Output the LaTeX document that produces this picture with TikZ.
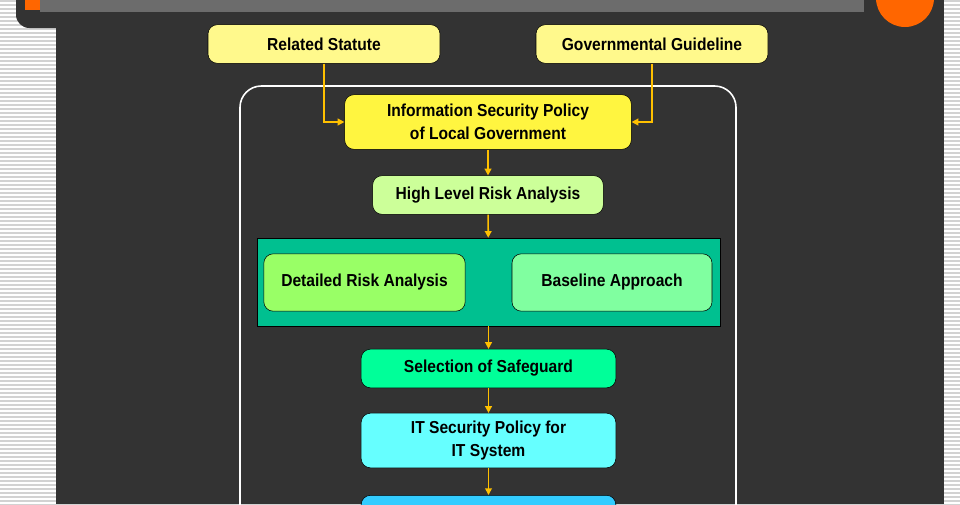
\documentclass[tikz,border=0pt]{standalone}
\usepackage{fontspec}
\setmainfont[FakeStretch=0.9]{Liberation Sans}
\usetikzlibrary{arrows.meta}
\definecolor{panel}{HTML}{333333}
\definecolor{gold}{HTML}{FFC000}
\definecolor{orng}{HTML}{FF6600}
\tikzset{
  box/.style={draw=black, rounded corners=7pt, font=\bfseries\fontsize{13}{17}\selectfont, align=center, inner sep=0pt},
  arr/.style={gold, line width=1.2pt, -{Triangle[length=5pt,width=5pt]}}
}
\begin{document}
\begin{tikzpicture}[x=0.75pt,y=-0.75pt]
\useasboundingbox (0,0) rectangle (960,504);
% striped background
\fill[white] (0,0) rectangle (960,504);
\foreach \i in {0,4,...,504} \fill[gray!35] (0,\i) rectangle (960,\i+2);
\fill[panel] (56,0) rectangle (944,504);
% top bar
\fill[panel, rounded corners=10pt] (16,-20) rectangle (942,28);
\fill[orng] (25,0) rectangle (42,10);
\fill[gray!85!black] (40,0) rectangle (864,12);
\fill[orng] (905,-2) circle (29);
% outer frame
\draw[white, line width=1.2pt, rounded corners=16pt] (240,520) -- (240,86) -- (736,86) -- (736,520);
\node[box, fill=yellow!45, minimum width=174pt, minimum height=29pt] (rs) at (324,44) {Related Statute};
\node[box, fill=yellow!45, minimum width=174pt, minimum height=29pt] (gg) at (652,44) {Governmental Guideline};
\node[box, fill=yellow!75, minimum width=215pt, minimum height=41pt] (isp) at (488,122) {Information Security Policy\\of Local Government};
\node[box, fill={rgb,255:red,204;green,255;blue,153}, minimum width=173pt, minimum height=29pt] (hl) at (488,195) {High Level Risk Analysis};
\node[draw=black, fill={rgb,255:red,0;green,192;blue,144}, minimum width=347pt, minimum height=66pt, inner sep=0pt] (tr) at (488.5,282) {};
\node[box, fill={rgb,255:red,153;green,255;blue,102}, minimum width=151pt, minimum height=43pt] (dra) at (364.5,282.5) {Detailed Risk Analysis};
\node[box, fill={rgb,255:red,128;green,255;blue,160}, minimum width=150pt, minimum height=43pt] (ba) at (612,282.5) {Baseline Approach};
\node[box, fill={rgb,255:red,0;green,255;blue,153}, minimum width=191pt, minimum height=29pt] (sel) at (488.5,368.5) {Selection of Safeguard};
\node[box, fill={rgb,255:red,102;green,255;blue,255}, minimum width=191pt, minimum height=41pt] (its) at (488.5,440.5) {IT Security Policy for\\IT System};
\node[box, fill={rgb,255:red,51;green,204;blue,255}, minimum width=191pt, minimum height=41pt, anchor=north] (nx) at (488.5,495) {};
\draw[arr] (rs.south) |- (isp.west);
\draw[arr] (gg.south) |- (isp.east);
\draw[arr] (isp) -- (hl);
\draw[arr] (hl) -- (tr);
\draw[arr] (tr) -- (sel);
\draw[arr] (sel) -- (its);
\draw[arr] (its) -- (nx);
\end{tikzpicture}
\end{document}
